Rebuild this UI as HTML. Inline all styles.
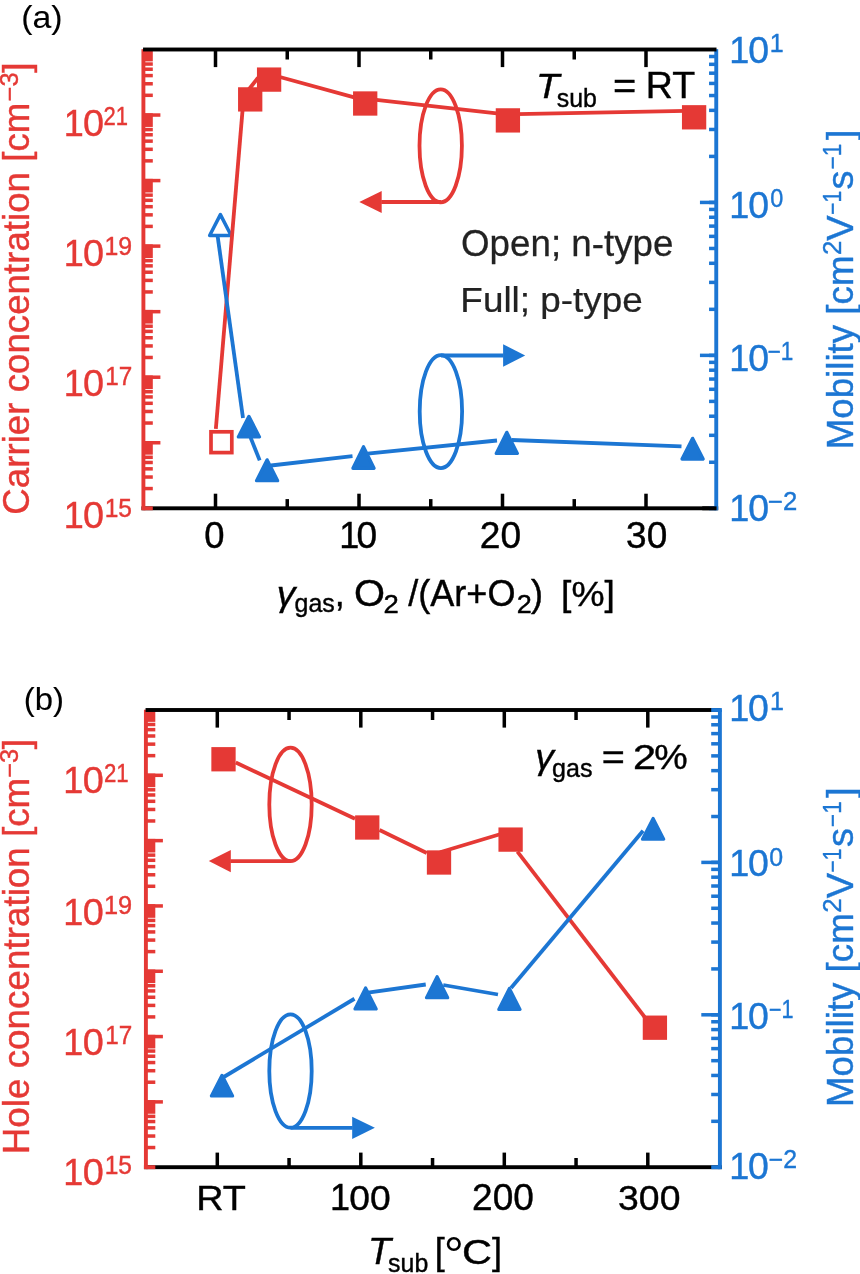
<!DOCTYPE html>
<html><head><meta charset="utf-8"><title>Figure</title>
<style>html,body{margin:0;padding:0;background:#fff}svg{display:block}text{font-family:"Liberation Sans",sans-serif}</style>
</head><body>
<svg width="860" height="1274" viewBox="0 0 860 1274">
<rect width="860" height="1274" fill="#fff"/>
<rect x="141.45" y="506.35" width="576.75" height="3.90" fill="#000"/>
<rect x="213.75" y="493.70" width="3.50" height="14.60" fill="#000"/>
<rect x="285.50" y="499.10" width="3.50" height="9.20" fill="#000"/>
<rect x="357.25" y="493.70" width="3.50" height="14.60" fill="#000"/>
<rect x="429.00" y="499.10" width="3.50" height="9.20" fill="#000"/>
<rect x="500.75" y="493.70" width="3.50" height="14.60" fill="#000"/>
<rect x="572.50" y="499.10" width="3.50" height="9.20" fill="#000"/>
<rect x="644.25" y="493.70" width="3.50" height="14.60" fill="#000"/>
<rect x="141.45" y="49.20" width="3.90" height="461.05" fill="#e53935"/>
<rect x="143.40" y="441.01" width="17.00" height="3.50" fill="#e53935"/>
<rect x="143.40" y="375.46" width="17.00" height="3.50" fill="#e53935"/>
<rect x="143.40" y="309.92" width="17.00" height="3.50" fill="#e53935"/>
<rect x="143.40" y="244.38" width="17.00" height="3.50" fill="#e53935"/>
<rect x="143.40" y="178.84" width="17.00" height="3.50" fill="#e53935"/>
<rect x="143.40" y="113.29" width="17.00" height="3.50" fill="#e53935"/>
<rect x="143.40" y="49.50" width="9.40" height="11.90" fill="#e53935"/>
<rect x="143.40" y="62.29" width="9.40" height="3.50" fill="#e53935"/>
<rect x="143.40" y="67.48" width="9.40" height="3.50" fill="#e53935"/>
<rect x="143.40" y="73.83" width="9.40" height="3.50" fill="#e53935"/>
<rect x="143.40" y="82.02" width="9.40" height="3.50" fill="#e53935"/>
<rect x="143.40" y="93.56" width="9.40" height="3.50" fill="#e53935"/>
<rect x="143.40" y="113.29" width="9.40" height="13.65" fill="#e53935"/>
<rect x="143.40" y="127.83" width="9.40" height="3.50" fill="#e53935"/>
<rect x="143.40" y="133.02" width="9.40" height="3.50" fill="#e53935"/>
<rect x="143.40" y="139.37" width="9.40" height="3.50" fill="#e53935"/>
<rect x="143.40" y="147.56" width="9.40" height="3.50" fill="#e53935"/>
<rect x="143.40" y="159.11" width="9.40" height="3.50" fill="#e53935"/>
<rect x="143.40" y="178.84" width="9.40" height="13.65" fill="#e53935"/>
<rect x="143.40" y="193.38" width="9.40" height="3.50" fill="#e53935"/>
<rect x="143.40" y="198.57" width="9.40" height="3.50" fill="#e53935"/>
<rect x="143.40" y="204.92" width="9.40" height="3.50" fill="#e53935"/>
<rect x="143.40" y="213.11" width="9.40" height="3.50" fill="#e53935"/>
<rect x="143.40" y="224.65" width="9.40" height="3.50" fill="#e53935"/>
<rect x="143.40" y="244.38" width="9.40" height="13.65" fill="#e53935"/>
<rect x="143.40" y="258.92" width="9.40" height="3.50" fill="#e53935"/>
<rect x="143.40" y="264.11" width="9.40" height="3.50" fill="#e53935"/>
<rect x="143.40" y="270.46" width="9.40" height="3.50" fill="#e53935"/>
<rect x="143.40" y="278.65" width="9.40" height="3.50" fill="#e53935"/>
<rect x="143.40" y="290.19" width="9.40" height="3.50" fill="#e53935"/>
<rect x="143.40" y="309.92" width="9.40" height="13.65" fill="#e53935"/>
<rect x="143.40" y="324.46" width="9.40" height="3.50" fill="#e53935"/>
<rect x="143.40" y="329.65" width="9.40" height="3.50" fill="#e53935"/>
<rect x="143.40" y="336.00" width="9.40" height="3.50" fill="#e53935"/>
<rect x="143.40" y="344.19" width="9.40" height="3.50" fill="#e53935"/>
<rect x="143.40" y="355.73" width="9.40" height="3.50" fill="#e53935"/>
<rect x="143.40" y="375.46" width="9.40" height="13.65" fill="#e53935"/>
<rect x="143.40" y="390.00" width="9.40" height="3.50" fill="#e53935"/>
<rect x="143.40" y="395.19" width="9.40" height="3.50" fill="#e53935"/>
<rect x="143.40" y="401.55" width="9.40" height="3.50" fill="#e53935"/>
<rect x="143.40" y="409.74" width="9.40" height="3.50" fill="#e53935"/>
<rect x="143.40" y="421.28" width="9.40" height="3.50" fill="#e53935"/>
<rect x="143.40" y="441.01" width="9.40" height="13.65" fill="#e53935"/>
<rect x="143.40" y="455.55" width="9.40" height="3.50" fill="#e53935"/>
<rect x="143.40" y="460.74" width="9.40" height="3.50" fill="#e53935"/>
<rect x="143.40" y="467.09" width="9.40" height="3.50" fill="#e53935"/>
<rect x="143.40" y="475.28" width="9.40" height="3.50" fill="#e53935"/>
<rect x="143.40" y="486.82" width="9.40" height="3.50" fill="#e53935"/>
<rect x="143.40" y="506.35" width="9.40" height="3.90" fill="#e53935"/>
<rect x="714.30" y="49.20" width="3.90" height="461.05" fill="#1c76d3"/>
<rect x="699.95" y="353.62" width="16.30" height="3.50" fill="#1c76d3"/>
<rect x="699.95" y="200.68" width="16.30" height="3.50" fill="#1c76d3"/>
<rect x="709.05" y="54.75" width="7.20" height="3.50" fill="#1c76d3"/>
<rect x="709.05" y="62.57" width="7.20" height="3.50" fill="#1c76d3"/>
<rect x="709.05" y="71.44" width="7.20" height="3.50" fill="#1c76d3"/>
<rect x="709.05" y="81.68" width="7.20" height="3.50" fill="#1c76d3"/>
<rect x="709.05" y="93.79" width="7.20" height="3.50" fill="#1c76d3"/>
<rect x="709.05" y="108.61" width="7.20" height="3.50" fill="#1c76d3"/>
<rect x="709.05" y="127.72" width="7.20" height="3.50" fill="#1c76d3"/>
<rect x="709.05" y="154.65" width="7.20" height="3.50" fill="#1c76d3"/>
<rect x="709.05" y="200.68" width="7.20" height="3.50" fill="#1c76d3"/>
<rect x="709.05" y="207.68" width="7.20" height="3.50" fill="#1c76d3"/>
<rect x="709.05" y="215.50" width="7.20" height="3.50" fill="#1c76d3"/>
<rect x="709.05" y="224.37" width="7.20" height="3.50" fill="#1c76d3"/>
<rect x="709.05" y="234.61" width="7.20" height="3.50" fill="#1c76d3"/>
<rect x="709.05" y="246.72" width="7.20" height="3.50" fill="#1c76d3"/>
<rect x="709.05" y="261.54" width="7.20" height="3.50" fill="#1c76d3"/>
<rect x="709.05" y="280.65" width="7.20" height="3.50" fill="#1c76d3"/>
<rect x="709.05" y="307.58" width="7.20" height="3.50" fill="#1c76d3"/>
<rect x="709.05" y="353.62" width="7.20" height="3.50" fill="#1c76d3"/>
<rect x="709.05" y="360.61" width="7.20" height="3.50" fill="#1c76d3"/>
<rect x="709.05" y="368.44" width="7.20" height="3.50" fill="#1c76d3"/>
<rect x="709.05" y="377.31" width="7.20" height="3.50" fill="#1c76d3"/>
<rect x="709.05" y="387.54" width="7.20" height="3.50" fill="#1c76d3"/>
<rect x="709.05" y="399.65" width="7.20" height="3.50" fill="#1c76d3"/>
<rect x="709.05" y="414.47" width="7.20" height="3.50" fill="#1c76d3"/>
<rect x="709.05" y="433.58" width="7.20" height="3.50" fill="#1c76d3"/>
<rect x="709.05" y="460.51" width="7.20" height="3.50" fill="#1c76d3"/>
<rect x="709.05" y="506.35" width="7.20" height="3.90" fill="#1c76d3"/>
<rect x="143.05" y="47.55" width="573.45" height="3.90" fill="#000"/>
<rect x="213.75" y="49.50" width="3.50" height="17.60" fill="#000"/>
<rect x="285.50" y="49.50" width="3.50" height="10.00" fill="#000"/>
<rect x="357.25" y="49.50" width="3.50" height="17.60" fill="#000"/>
<rect x="429.00" y="49.50" width="3.50" height="10.00" fill="#000"/>
<rect x="500.75" y="49.50" width="3.50" height="17.60" fill="#000"/>
<rect x="572.50" y="49.50" width="3.50" height="10.00" fill="#000"/>
<rect x="644.25" y="49.50" width="3.50" height="17.60" fill="#000"/>
<rect x="702.25" y="506.35" width="14.30" height="3.90" fill="#000"/>
<path d="M220.40,214.60 L231.15,235.55 L209.65,235.55 Z" fill="#fff" stroke="#1c76d3" stroke-width="3.5" stroke-linejoin="round"/>
<line x1="215.85" y1="428.80" x2="243.40" y2="100.00" stroke="#e53935" stroke-width="3.8" stroke-linecap="butt"/>
<line x1="243.00" y1="96.70" x2="258.00" y2="77.80" stroke="#e53935" stroke-width="3.8" stroke-linecap="butt"/>
<line x1="278.00" y1="76.50" x2="356.00" y2="97.80" stroke="#e53935" stroke-width="3.8" stroke-linecap="butt"/>
<line x1="374.00" y1="99.60" x2="499.00" y2="113.60" stroke="#e53935" stroke-width="3.8" stroke-linecap="butt"/>
<line x1="517.00" y1="114.06" x2="686.00" y2="110.93" stroke="#e53935" stroke-width="3.8" stroke-linecap="butt"/>
<line x1="217.60" y1="236.00" x2="243.00" y2="418.00" stroke="#1c76d3" stroke-width="3.8" stroke-linecap="butt"/>
<line x1="250.60" y1="437.60" x2="259.70" y2="460.40" stroke="#1c76d3" stroke-width="3.8" stroke-linecap="butt"/>
<line x1="271.00" y1="465.50" x2="352.50" y2="456.20" stroke="#1c76d3" stroke-width="3.8" stroke-linecap="butt"/>
<line x1="367.50" y1="453.60" x2="497.00" y2="440.50" stroke="#1c76d3" stroke-width="3.8" stroke-linecap="butt"/>
<line x1="511.50" y1="440.00" x2="681.50" y2="446.30" stroke="#1c76d3" stroke-width="3.8" stroke-linecap="butt"/>
<rect x="238.05" y="87.25" width="24.30" height="24.30" fill="#e53935"/>
<rect x="256.95" y="67.45" width="24.30" height="24.30" fill="#e53935"/>
<rect x="353.05" y="91.35" width="24.30" height="24.30" fill="#e53935"/>
<rect x="495.75" y="108.25" width="24.30" height="24.30" fill="#e53935"/>
<rect x="681.95" y="105.15" width="24.30" height="24.30" fill="#e53935"/>
<rect x="211.00" y="431.80" width="20.80" height="20.80" fill="#fff" stroke="#e53935" stroke-width="3.7"/>
<path d="M248.90,416.30 L259.50,436.90 L238.30,436.90 Z" fill="#1c76d3" stroke="#1c76d3" stroke-width="3.2" stroke-linejoin="round"/>
<path d="M267.10,459.80 L277.70,480.70 L256.50,480.70 Z" fill="#1c76d3" stroke="#1c76d3" stroke-width="3.2" stroke-linejoin="round"/>
<path d="M363.50,446.70 L374.10,468.30 L352.90,468.30 Z" fill="#1c76d3" stroke="#1c76d3" stroke-width="3.2" stroke-linejoin="round"/>
<path d="M506.80,432.30 L517.40,453.40 L496.20,453.40 Z" fill="#1c76d3" stroke="#1c76d3" stroke-width="3.2" stroke-linejoin="round"/>
<path d="M692.60,438.30 L703.20,459.10 L682.00,459.10 Z" fill="#1c76d3" stroke="#1c76d3" stroke-width="3.2" stroke-linejoin="round"/>
<ellipse cx="440.70" cy="145.85" rx="21.20" ry="56.45" fill="none" stroke="#e53935" stroke-width="3.8"/>
<line x1="441.10" y1="202.05" x2="381.20" y2="202.05" stroke="#e53935" stroke-width="3.9" stroke-linecap="butt"/>
<path d="M359.30,202.05 L381.70,191.00 L381.70,213.10 Z" fill="#e53935"/>
<ellipse cx="440.90" cy="411.60" rx="21.20" ry="56.45" fill="none" stroke="#1c76d3" stroke-width="3.8"/>
<line x1="441.10" y1="355.50" x2="503.60" y2="355.50" stroke="#1c76d3" stroke-width="3.9" stroke-linecap="butt"/>
<path d="M525.20,355.50 L503.10,344.20 L503.10,366.80 Z" fill="#1c76d3"/>
<text transform="translate(21.19,27.60) scale(1.0568,1.0000)" font-size="32" fill="#000" stroke="#000" stroke-width="0.1">(a)</text>
<text transform="translate(83.11,135.70) scale(1.0500,1.0000)" font-size="36" fill="#e53935" stroke="#e53935" stroke-width="0.4">0</text>
<text transform="translate(63.80,135.70) scale(1.0000,1.0000)" font-size="36" fill="#e53935" stroke="#e53935" stroke-width="0.4">1</text>
<text transform="translate(103.60,124.60) scale(0.8810,1.0000)" font-size="25" fill="#e53935" stroke="#e53935" stroke-width="0.4">21</text>
<text transform="translate(83.11,265.60) scale(1.0500,1.0000)" font-size="36" fill="#e53935" stroke="#e53935" stroke-width="0.4">0</text>
<text transform="translate(63.80,265.60) scale(1.0000,1.0000)" font-size="36" fill="#e53935" stroke="#e53935" stroke-width="0.4">1</text>
<text transform="translate(104.44,254.50) scale(0.9939,1.0000)" font-size="25" fill="#e53935" stroke="#e53935" stroke-width="0.4">19</text>
<text transform="translate(83.11,396.40) scale(1.0500,1.0000)" font-size="36" fill="#e53935" stroke="#e53935" stroke-width="0.4">0</text>
<text transform="translate(63.80,396.40) scale(1.0000,1.0000)" font-size="36" fill="#e53935" stroke="#e53935" stroke-width="0.4">1</text>
<text transform="translate(105.18,385.30) scale(0.9706,1.0000)" font-size="25" fill="#e53935" stroke="#e53935" stroke-width="0.4">17</text>
<text transform="translate(83.11,527.60) scale(1.0500,1.0000)" font-size="36" fill="#e53935" stroke="#e53935" stroke-width="0.4">0</text>
<text transform="translate(63.80,527.60) scale(1.0000,1.0000)" font-size="36" fill="#e53935" stroke="#e53935" stroke-width="0.4">1</text>
<text transform="translate(104.66,516.50) scale(0.9809,1.0000)" font-size="25" fill="#e53935" stroke="#e53935" stroke-width="0.4">15</text>
<text transform="translate(748.31,63.30) scale(1.0400,1.0000)" font-size="36" fill="#1c76d3" stroke="#1c76d3" stroke-width="0.4">0</text>
<text transform="translate(729.20,63.30) scale(1.0000,1.0000)" font-size="36" fill="#1c76d3" stroke="#1c76d3" stroke-width="0.4">1</text>
<text transform="translate(769.72,52.30) scale(1.0000,1.0000)" font-size="25" fill="#1c76d3" stroke="#1c76d3" stroke-width="0.4">1</text>
<text transform="translate(748.31,218.30) scale(1.0400,1.0000)" font-size="36" fill="#1c76d3" stroke="#1c76d3" stroke-width="0.4">0</text>
<text transform="translate(729.20,218.30) scale(1.0000,1.0000)" font-size="36" fill="#1c76d3" stroke="#1c76d3" stroke-width="0.4">1</text>
<text transform="translate(770.26,207.30) scale(0.9382,1.0000)" font-size="25" fill="#1c76d3" stroke="#1c76d3" stroke-width="0.4">0</text>
<text transform="translate(748.31,371.30) scale(1.0400,1.0000)" font-size="36" fill="#1c76d3" stroke="#1c76d3" stroke-width="0.4">0</text>
<text transform="translate(729.20,371.30) scale(1.0000,1.0000)" font-size="36" fill="#1c76d3" stroke="#1c76d3" stroke-width="0.4">1</text>
<text transform="translate(767.67,360.30) scale(0.9017,1.0000)" font-size="25" fill="#1c76d3" stroke="#1c76d3" stroke-width="0.4">−1</text>
<text transform="translate(748.31,521.40) scale(1.0400,1.0000)" font-size="36" fill="#1c76d3" stroke="#1c76d3" stroke-width="0.4">0</text>
<text transform="translate(729.20,521.40) scale(1.0000,1.0000)" font-size="36" fill="#1c76d3" stroke="#1c76d3" stroke-width="0.4">1</text>
<text transform="translate(768.02,510.10) scale(1.0269,1.0000)" font-size="25" fill="#1c76d3" stroke="#1c76d3" stroke-width="0.4">−2</text>
<text transform="translate(204.14,548.00) scale(1.0122,1.0000)" font-size="36" fill="#000" stroke="#000" stroke-width="0.4">0</text>
<text transform="translate(356.46,548.00) scale(1.0300,1.0000)" font-size="36" fill="#000" stroke="#000" stroke-width="0.4">0</text>
<text transform="translate(339.30,548.00) scale(1.0000,1.0000)" font-size="36" fill="#000" stroke="#000" stroke-width="0.4">1</text>
<text transform="translate(479.74,548.00) scale(1.0323,1.0000)" font-size="36" fill="#000" stroke="#000" stroke-width="0.4">20</text>
<text transform="translate(626.11,548.00) scale(1.0279,1.0000)" font-size="36" fill="#000" stroke="#000" stroke-width="0.4">30</text>
<text transform="translate(276.75,605.70) scale(1.0378,1.0000)" font-size="36" fill="#000" stroke="#000" stroke-width="0.4" font-style="italic">γ</text>
<text transform="translate(294.54,612.20) scale(0.9954,1.0000)" font-size="25" fill="#000" stroke="#000" stroke-width="0.4">gas</text>
<text transform="translate(334.80,605.70) scale(1.0000,1.0000)" font-size="36" fill="#000" stroke="#000" stroke-width="0.4">,</text>
<text transform="translate(353.91,605.70) scale(1.1070,1.0000)" font-size="36" fill="#000" stroke="#000" stroke-width="0.4">O</text>
<text transform="translate(383.43,613.00) scale(1.0989,1.0000)" font-size="25" fill="#000" stroke="#000" stroke-width="0.4">2</text>
<text transform="translate(408.20,605.70) scale(1.0028,1.0000)" font-size="36" fill="#000" stroke="#000" stroke-width="0.4">/(Ar+O</text>
<text transform="translate(516.85,613.00) scale(1.0813,1.0000)" font-size="25" fill="#000" stroke="#000" stroke-width="0.4">2</text>
<text transform="translate(530.91,605.70) scale(1.0000,1.0000)" font-size="36" fill="#000" stroke="#000" stroke-width="0.4">)</text>
<text transform="translate(561.09,605.70) scale(1.0345,1.0000)" font-size="36" fill="#000" stroke="#000" stroke-width="0.4">[%]</text>
<text transform="translate(535.96,98.40) scale(1.0632,1.0000)" font-size="36" fill="#000" stroke="#000" stroke-width="0.4" font-style="italic">T</text>
<text transform="translate(556.72,106.60) scale(0.9958,1.0000)" font-size="25" fill="#000" stroke="#000" stroke-width="0.4">sub</text>
<text transform="translate(612.91,98.40) scale(1.1054,1.0000)" font-size="36" fill="#000" stroke="#000" stroke-width="0.4">=</text>
<text transform="translate(645.80,98.40) scale(1.0422,1.0000)" font-size="36" fill="#000" stroke="#000" stroke-width="0.4">RT</text>
<text transform="translate(461.06,255.60) scale(1.0203,1.0000)" font-size="36" fill="#222" stroke="#222" stroke-width="0.25">Open; n-type</text>
<text transform="translate(460.36,312.00) scale(1.0247,1.0000)" font-size="36" fill="#222" stroke="#222" stroke-width="0.25">Full; p-type</text>
<text transform="translate(29.00,514.64) rotate(-90) scale(0.9870,1.0000)" font-size="37.2" fill="#e53935" stroke="#e53935" stroke-width="0.4">Carrier concentration [cm</text>
<text transform="translate(18.10,101.48) rotate(-90) scale(1.0234,1.0000)" font-size="25" fill="#e53935" stroke="#e53935" stroke-width="0.4">−3</text>
<text transform="translate(29.00,72.65) rotate(-90) scale(1.0000,1.0000)" font-size="37.2" fill="#e53935" stroke="#e53935" stroke-width="0.4">]</text>
<text transform="translate(852.60,449.33) rotate(-90) scale(0.9872,1.0000)" font-size="37.2" fill="#1c76d3" stroke="#1c76d3" stroke-width="0.4">Mobility [cm</text>
<text transform="translate(840.60,255.00) rotate(-90) scale(1.0300,1.0000)" font-size="25" fill="#1c76d3" stroke="#1c76d3" stroke-width="0.4">2</text>
<text transform="translate(852.60,240.66) rotate(-90) scale(1.0200,1.0000)" font-size="37.2" fill="#1c76d3" stroke="#1c76d3" stroke-width="0.4">V</text>
<text transform="translate(840.60,214.86) rotate(-90) scale(0.8441,1.0000)" font-size="25" fill="#1c76d3" stroke="#1c76d3" stroke-width="0.4">−1</text>
<text transform="translate(852.60,189.39) rotate(-90) scale(1.0200,1.0000)" font-size="37.2" fill="#1c76d3" stroke="#1c76d3" stroke-width="0.4">s</text>
<text transform="translate(840.60,169.33) rotate(-90) scale(0.9017,1.0000)" font-size="25" fill="#1c76d3" stroke="#1c76d3" stroke-width="0.4">−1</text>
<text transform="translate(852.60,140.00) rotate(-90) scale(1.0000,1.0000)" font-size="37.2" fill="#1c76d3" stroke="#1c76d3" stroke-width="0.4">]</text>
<rect x="143.95" y="1165.25" width="577.90" height="3.90" fill="#000"/>
<rect x="215.55" y="1152.60" width="3.50" height="14.60" fill="#000"/>
<rect x="287.30" y="1158.00" width="3.50" height="9.20" fill="#000"/>
<rect x="359.05" y="1152.60" width="3.50" height="14.60" fill="#000"/>
<rect x="430.80" y="1158.00" width="3.50" height="9.20" fill="#000"/>
<rect x="502.55" y="1152.60" width="3.50" height="14.60" fill="#000"/>
<rect x="574.30" y="1158.00" width="3.50" height="9.20" fill="#000"/>
<rect x="646.05" y="1152.60" width="3.50" height="14.60" fill="#000"/>
<rect x="143.95" y="709.70" width="3.90" height="459.45" fill="#e53935"/>
<rect x="145.90" y="1100.14" width="17.00" height="3.50" fill="#e53935"/>
<rect x="145.90" y="1034.82" width="17.00" height="3.50" fill="#e53935"/>
<rect x="145.90" y="969.51" width="17.00" height="3.50" fill="#e53935"/>
<rect x="145.90" y="904.19" width="17.00" height="3.50" fill="#e53935"/>
<rect x="145.90" y="838.88" width="17.00" height="3.50" fill="#e53935"/>
<rect x="145.90" y="773.56" width="17.00" height="3.50" fill="#e53935"/>
<rect x="145.90" y="710.00" width="9.40" height="11.87" fill="#e53935"/>
<rect x="145.90" y="722.74" width="9.40" height="3.50" fill="#e53935"/>
<rect x="145.90" y="727.91" width="9.40" height="3.50" fill="#e53935"/>
<rect x="145.90" y="734.24" width="9.40" height="3.50" fill="#e53935"/>
<rect x="145.90" y="742.40" width="9.40" height="3.50" fill="#e53935"/>
<rect x="145.90" y="753.90" width="9.40" height="3.50" fill="#e53935"/>
<rect x="145.90" y="773.56" width="9.40" height="13.62" fill="#e53935"/>
<rect x="145.90" y="788.05" width="9.40" height="3.50" fill="#e53935"/>
<rect x="145.90" y="793.23" width="9.40" height="3.50" fill="#e53935"/>
<rect x="145.90" y="799.56" width="9.40" height="3.50" fill="#e53935"/>
<rect x="145.90" y="807.72" width="9.40" height="3.50" fill="#e53935"/>
<rect x="145.90" y="819.22" width="9.40" height="3.50" fill="#e53935"/>
<rect x="145.90" y="838.88" width="9.40" height="13.62" fill="#e53935"/>
<rect x="145.90" y="853.37" width="9.40" height="3.50" fill="#e53935"/>
<rect x="145.90" y="858.54" width="9.40" height="3.50" fill="#e53935"/>
<rect x="145.90" y="864.87" width="9.40" height="3.50" fill="#e53935"/>
<rect x="145.90" y="873.03" width="9.40" height="3.50" fill="#e53935"/>
<rect x="145.90" y="884.53" width="9.40" height="3.50" fill="#e53935"/>
<rect x="145.90" y="904.19" width="9.40" height="13.62" fill="#e53935"/>
<rect x="145.90" y="918.68" width="9.40" height="3.50" fill="#e53935"/>
<rect x="145.90" y="923.85" width="9.40" height="3.50" fill="#e53935"/>
<rect x="145.90" y="930.18" width="9.40" height="3.50" fill="#e53935"/>
<rect x="145.90" y="938.34" width="9.40" height="3.50" fill="#e53935"/>
<rect x="145.90" y="949.85" width="9.40" height="3.50" fill="#e53935"/>
<rect x="145.90" y="969.51" width="9.40" height="13.62" fill="#e53935"/>
<rect x="145.90" y="984.00" width="9.40" height="3.50" fill="#e53935"/>
<rect x="145.90" y="989.17" width="9.40" height="3.50" fill="#e53935"/>
<rect x="145.90" y="995.50" width="9.40" height="3.50" fill="#e53935"/>
<rect x="145.90" y="1003.66" width="9.40" height="3.50" fill="#e53935"/>
<rect x="145.90" y="1015.16" width="9.40" height="3.50" fill="#e53935"/>
<rect x="145.90" y="1034.82" width="9.40" height="13.62" fill="#e53935"/>
<rect x="145.90" y="1049.31" width="9.40" height="3.50" fill="#e53935"/>
<rect x="145.90" y="1054.48" width="9.40" height="3.50" fill="#e53935"/>
<rect x="145.90" y="1060.81" width="9.40" height="3.50" fill="#e53935"/>
<rect x="145.90" y="1068.97" width="9.40" height="3.50" fill="#e53935"/>
<rect x="145.90" y="1080.47" width="9.40" height="3.50" fill="#e53935"/>
<rect x="145.90" y="1100.14" width="9.40" height="13.62" fill="#e53935"/>
<rect x="145.90" y="1114.63" width="9.40" height="3.50" fill="#e53935"/>
<rect x="145.90" y="1119.80" width="9.40" height="3.50" fill="#e53935"/>
<rect x="145.90" y="1126.13" width="9.40" height="3.50" fill="#e53935"/>
<rect x="145.90" y="1134.29" width="9.40" height="3.50" fill="#e53935"/>
<rect x="145.90" y="1145.79" width="9.40" height="3.50" fill="#e53935"/>
<rect x="145.90" y="1165.25" width="9.40" height="3.90" fill="#e53935"/>
<rect x="145.55" y="708.05" width="574.60" height="3.90" fill="#000"/>
<rect x="215.55" y="710.00" width="3.50" height="17.60" fill="#000"/>
<rect x="287.30" y="710.00" width="3.50" height="10.00" fill="#000"/>
<rect x="359.05" y="710.00" width="3.50" height="17.60" fill="#000"/>
<rect x="430.80" y="710.00" width="3.50" height="10.00" fill="#000"/>
<rect x="502.55" y="710.00" width="3.50" height="17.60" fill="#000"/>
<rect x="574.30" y="710.00" width="3.50" height="10.00" fill="#000"/>
<rect x="646.05" y="710.00" width="3.50" height="17.60" fill="#000"/>
<rect x="717.95" y="709.70" width="3.90" height="459.45" fill="#1c76d3"/>
<rect x="701.30" y="1013.05" width="18.60" height="3.50" fill="#1c76d3"/>
<rect x="701.30" y="860.65" width="18.60" height="3.50" fill="#1c76d3"/>
<rect x="711.20" y="708.05" width="10.65" height="3.90" fill="#1c76d3"/>
<rect x="711.20" y="715.22" width="8.70" height="3.50" fill="#1c76d3"/>
<rect x="711.20" y="723.02" width="8.70" height="3.50" fill="#1c76d3"/>
<rect x="711.20" y="731.86" width="8.70" height="3.50" fill="#1c76d3"/>
<rect x="711.20" y="742.06" width="8.70" height="3.50" fill="#1c76d3"/>
<rect x="711.20" y="754.13" width="8.70" height="3.50" fill="#1c76d3"/>
<rect x="711.20" y="768.90" width="8.70" height="3.50" fill="#1c76d3"/>
<rect x="711.20" y="787.94" width="8.70" height="3.50" fill="#1c76d3"/>
<rect x="711.20" y="814.77" width="8.70" height="3.50" fill="#1c76d3"/>
<rect x="711.20" y="860.65" width="8.70" height="3.50" fill="#1c76d3"/>
<rect x="711.20" y="867.62" width="8.70" height="3.50" fill="#1c76d3"/>
<rect x="711.20" y="875.42" width="8.70" height="3.50" fill="#1c76d3"/>
<rect x="711.20" y="884.26" width="8.70" height="3.50" fill="#1c76d3"/>
<rect x="711.20" y="894.46" width="8.70" height="3.50" fill="#1c76d3"/>
<rect x="711.20" y="906.53" width="8.70" height="3.50" fill="#1c76d3"/>
<rect x="711.20" y="921.30" width="8.70" height="3.50" fill="#1c76d3"/>
<rect x="711.20" y="940.34" width="8.70" height="3.50" fill="#1c76d3"/>
<rect x="711.20" y="967.17" width="8.70" height="3.50" fill="#1c76d3"/>
<rect x="711.20" y="1013.05" width="8.70" height="3.50" fill="#1c76d3"/>
<rect x="711.20" y="1020.02" width="8.70" height="3.50" fill="#1c76d3"/>
<rect x="711.20" y="1027.82" width="8.70" height="3.50" fill="#1c76d3"/>
<rect x="711.20" y="1036.66" width="8.70" height="3.50" fill="#1c76d3"/>
<rect x="711.20" y="1046.86" width="8.70" height="3.50" fill="#1c76d3"/>
<rect x="711.20" y="1058.93" width="8.70" height="3.50" fill="#1c76d3"/>
<rect x="711.20" y="1073.70" width="8.70" height="3.50" fill="#1c76d3"/>
<rect x="711.20" y="1092.74" width="8.70" height="3.50" fill="#1c76d3"/>
<rect x="711.20" y="1119.57" width="8.70" height="3.50" fill="#1c76d3"/>
<rect x="711.20" y="1165.25" width="8.70" height="3.90" fill="#1c76d3"/>
<line x1="235.75" y1="762.50" x2="355.00" y2="818.75" stroke="#e53935" stroke-width="3.8" stroke-linecap="butt"/>
<line x1="379.50" y1="830.00" x2="426.75" y2="853.00" stroke="#e53935" stroke-width="3.8" stroke-linecap="butt"/>
<line x1="440.00" y1="852.20" x2="500.00" y2="834.20" stroke="#e53935" stroke-width="3.8" stroke-linecap="butt"/>
<line x1="517.40" y1="851.70" x2="644.60" y2="1017.00" stroke="#e53935" stroke-width="3.8" stroke-linecap="butt"/>
<line x1="223.75" y1="1077.00" x2="354.50" y2="998.75" stroke="#1c76d3" stroke-width="3.8" stroke-linecap="butt"/>
<line x1="368.00" y1="992.70" x2="425.75" y2="984.50" stroke="#1c76d3" stroke-width="3.8" stroke-linecap="butt"/>
<line x1="443.25" y1="985.00" x2="498.00" y2="994.50" stroke="#1c76d3" stroke-width="3.8" stroke-linecap="butt"/>
<line x1="511.00" y1="988.00" x2="643.10" y2="830.80" stroke="#1c76d3" stroke-width="3.8" stroke-linecap="butt"/>
<rect x="211.35" y="747.10" width="24.30" height="24.30" fill="#e53935"/>
<rect x="355.10" y="815.35" width="24.30" height="24.30" fill="#e53935"/>
<rect x="426.85" y="850.35" width="24.30" height="24.30" fill="#e53935"/>
<rect x="498.45" y="827.45" width="24.30" height="24.30" fill="#e53935"/>
<rect x="642.75" y="1015.55" width="24.30" height="24.30" fill="#e53935"/>
<path d="M222.00,1075.35 L232.60,1096.00 L211.40,1096.00 Z" fill="#1c76d3" stroke="#1c76d3" stroke-width="3.2" stroke-linejoin="round"/>
<path d="M365.60,987.85 L376.20,1009.00 L355.00,1009.00 Z" fill="#1c76d3" stroke="#1c76d3" stroke-width="3.2" stroke-linejoin="round"/>
<path d="M437.10,976.60 L447.70,997.75 L426.50,997.75 Z" fill="#1c76d3" stroke="#1c76d3" stroke-width="3.2" stroke-linejoin="round"/>
<path d="M509.40,988.50 L520.00,1009.40 L498.80,1009.40 Z" fill="#1c76d3" stroke="#1c76d3" stroke-width="3.2" stroke-linejoin="round"/>
<path d="M653.10,818.50 L663.70,839.20 L642.50,839.20 Z" fill="#1c76d3" stroke="#1c76d3" stroke-width="3.2" stroke-linejoin="round"/>
<ellipse cx="290.50" cy="804.40" rx="21.20" ry="56.70" fill="none" stroke="#e53935" stroke-width="3.8"/>
<line x1="290.60" y1="861.10" x2="230.30" y2="861.10" stroke="#e53935" stroke-width="3.9" stroke-linecap="butt"/>
<path d="M208.80,861.10 L230.80,849.95 L230.80,872.25 Z" fill="#e53935"/>
<ellipse cx="290.50" cy="1071.00" rx="21.20" ry="56.70" fill="none" stroke="#1c76d3" stroke-width="3.8"/>
<line x1="290.60" y1="1127.85" x2="352.70" y2="1127.85" stroke="#1c76d3" stroke-width="3.9" stroke-linecap="butt"/>
<path d="M374.90,1127.85 L352.20,1116.65 L352.20,1139.05 Z" fill="#1c76d3"/>
<text transform="translate(23.74,710.00) scale(1.0284,1.0000)" font-size="32" fill="#000" stroke="#000" stroke-width="0.1">(b)</text>
<text transform="translate(82.86,793.30) scale(1.0500,1.0000)" font-size="36" fill="#e53935" stroke="#e53935" stroke-width="0.4">0</text>
<text transform="translate(63.30,793.30) scale(1.0000,1.0000)" font-size="36" fill="#e53935" stroke="#e53935" stroke-width="0.4">1</text>
<text transform="translate(103.89,782.30) scale(0.8889,1.0000)" font-size="25" fill="#e53935" stroke="#e53935" stroke-width="0.4">21</text>
<text transform="translate(82.86,924.60) scale(1.0500,1.0000)" font-size="36" fill="#e53935" stroke="#e53935" stroke-width="0.4">0</text>
<text transform="translate(63.30,924.60) scale(1.0000,1.0000)" font-size="36" fill="#e53935" stroke="#e53935" stroke-width="0.4">1</text>
<text transform="translate(103.90,913.60) scale(1.0141,1.0000)" font-size="25" fill="#e53935" stroke="#e53935" stroke-width="0.4">19</text>
<text transform="translate(82.86,1054.90) scale(1.0500,1.0000)" font-size="36" fill="#e53935" stroke="#e53935" stroke-width="0.4">0</text>
<text transform="translate(63.30,1054.90) scale(1.0000,1.0000)" font-size="36" fill="#e53935" stroke="#e53935" stroke-width="0.4">1</text>
<text transform="translate(105.18,1043.90) scale(0.9706,1.0000)" font-size="25" fill="#e53935" stroke="#e53935" stroke-width="0.4">17</text>
<text transform="translate(82.86,1185.00) scale(1.0500,1.0000)" font-size="36" fill="#e53935" stroke="#e53935" stroke-width="0.4">0</text>
<text transform="translate(63.30,1185.00) scale(1.0000,1.0000)" font-size="36" fill="#e53935" stroke="#e53935" stroke-width="0.4">1</text>
<text transform="translate(104.66,1174.00) scale(0.9809,1.0000)" font-size="25" fill="#e53935" stroke="#e53935" stroke-width="0.4">15</text>
<text transform="translate(748.11,720.70) scale(1.0400,1.0000)" font-size="36" fill="#1c76d3" stroke="#1c76d3" stroke-width="0.4">0</text>
<text transform="translate(729.30,720.70) scale(1.0000,1.0000)" font-size="36" fill="#1c76d3" stroke="#1c76d3" stroke-width="0.4">1</text>
<text transform="translate(769.92,710.40) scale(1.0000,1.0000)" font-size="25" fill="#1c76d3" stroke="#1c76d3" stroke-width="0.4">1</text>
<text transform="translate(748.11,876.40) scale(1.0400,1.0000)" font-size="36" fill="#1c76d3" stroke="#1c76d3" stroke-width="0.4">0</text>
<text transform="translate(729.30,876.40) scale(1.0000,1.0000)" font-size="36" fill="#1c76d3" stroke="#1c76d3" stroke-width="0.4">1</text>
<text transform="translate(769.20,865.60) scale(0.9969,1.0000)" font-size="25" fill="#1c76d3" stroke="#1c76d3" stroke-width="0.4">0</text>
<text transform="translate(748.11,1028.70) scale(1.0400,1.0000)" font-size="36" fill="#1c76d3" stroke="#1c76d3" stroke-width="0.4">0</text>
<text transform="translate(729.30,1028.70) scale(1.0000,1.0000)" font-size="36" fill="#1c76d3" stroke="#1c76d3" stroke-width="0.4">1</text>
<text transform="translate(768.92,1018.40) scale(0.8633,1.0000)" font-size="25" fill="#1c76d3" stroke="#1c76d3" stroke-width="0.4">−1</text>
<text transform="translate(748.11,1178.70) scale(1.0400,1.0000)" font-size="36" fill="#1c76d3" stroke="#1c76d3" stroke-width="0.4">0</text>
<text transform="translate(729.30,1178.70) scale(1.0000,1.0000)" font-size="36" fill="#1c76d3" stroke="#1c76d3" stroke-width="0.4">1</text>
<text transform="translate(768.76,1168.00) scale(0.9923,1.0000)" font-size="25" fill="#1c76d3" stroke="#1c76d3" stroke-width="0.4">−2</text>
<text transform="translate(196.18,1210.30) scale(1.0514,1.0000)" font-size="36" fill="#000" stroke="#000" stroke-width="0.4">RT</text>
<text transform="translate(349.21,1210.30) scale(1.0331,1.0000)" font-size="36" fill="#000" stroke="#000" stroke-width="0.4">00</text>
<text transform="translate(329.90,1210.30) scale(1.0000,1.0000)" font-size="36" fill="#000" stroke="#000" stroke-width="0.4">1</text>
<text transform="translate(472.05,1210.30) scale(1.0302,1.0000)" font-size="36" fill="#000" stroke="#000" stroke-width="0.4">200</text>
<text transform="translate(618.10,1210.30) scale(1.0379,1.0000)" font-size="36" fill="#000" stroke="#000" stroke-width="0.4">300</text>
<text transform="translate(367.92,1263.80) scale(1.0441,1.0000)" font-size="36" fill="#000" stroke="#000" stroke-width="0.4" font-style="italic">T</text>
<text transform="translate(388.12,1272.00) scale(0.9958,1.0000)" font-size="25" fill="#000" stroke="#000" stroke-width="0.4">sub</text>
<text transform="translate(434.78,1263.80) scale(1.0000,1.0000)" font-size="36" fill="#000" stroke="#000" stroke-width="0.4">[</text>
<text transform="translate(443.77,1272.20) scale(1.0000,1.0000)" font-size="50.4" fill="#000" stroke="#000" stroke-width="0">°</text>
<text transform="translate(462.02,1263.80) scale(1.1549,1.0000)" font-size="36" fill="#000" stroke="#000" stroke-width="0.4">C</text>
<text transform="translate(491.88,1263.80) scale(1.0000,1.0000)" font-size="36" fill="#000" stroke="#000" stroke-width="0.4">]</text>
<text transform="translate(535.15,769.00) scale(1.0378,1.0000)" font-size="36" fill="#000" stroke="#000" stroke-width="0.4" font-style="italic">γ</text>
<text transform="translate(552.03,777.00) scale(1.0033,1.0000)" font-size="25" fill="#000" stroke="#000" stroke-width="0.4">gas</text>
<text transform="translate(601.82,769.00) scale(1.0997,1.0000)" font-size="36" fill="#000" stroke="#000" stroke-width="0.4">=</text>
<text transform="translate(633.02,769.00) scale(1.1538,1.0000)" font-size="36" fill="#000" stroke="#000" stroke-width="0.4">2</text>
<text transform="translate(654.29,769.00) scale(1.0434,1.0000)" font-size="36" fill="#000" stroke="#000" stroke-width="0.4">%</text>
<text transform="translate(29.00,1154.24) rotate(-90) scale(0.9902,1.0000)" font-size="37.2" fill="#e53935" stroke="#e53935" stroke-width="0.4">Hole concentration [cm</text>
<text transform="translate(18.10,777.87) rotate(-90) scale(1.0158,1.0000)" font-size="25" fill="#e53935" stroke="#e53935" stroke-width="0.4">−3</text>
<text transform="translate(29.00,749.15) rotate(-90) scale(1.0000,1.0000)" font-size="37.2" fill="#e53935" stroke="#e53935" stroke-width="0.4">]</text>
<text transform="translate(852.60,1107.03) rotate(-90) scale(0.9872,1.0000)" font-size="37.2" fill="#1c76d3" stroke="#1c76d3" stroke-width="0.4">Mobility [cm</text>
<text transform="translate(840.60,912.70) rotate(-90) scale(1.0300,1.0000)" font-size="25" fill="#1c76d3" stroke="#1c76d3" stroke-width="0.4">2</text>
<text transform="translate(852.60,898.36) rotate(-90) scale(1.0200,1.0000)" font-size="37.2" fill="#1c76d3" stroke="#1c76d3" stroke-width="0.4">V</text>
<text transform="translate(840.60,872.56) rotate(-90) scale(0.8441,1.0000)" font-size="25" fill="#1c76d3" stroke="#1c76d3" stroke-width="0.4">−1</text>
<text transform="translate(852.60,847.09) rotate(-90) scale(1.0200,1.0000)" font-size="37.2" fill="#1c76d3" stroke="#1c76d3" stroke-width="0.4">s</text>
<text transform="translate(840.60,827.03) rotate(-90) scale(0.9017,1.0000)" font-size="25" fill="#1c76d3" stroke="#1c76d3" stroke-width="0.4">−1</text>
<text transform="translate(852.60,797.70) rotate(-90) scale(1.0000,1.0000)" font-size="37.2" fill="#1c76d3" stroke="#1c76d3" stroke-width="0.4">]</text>
</svg>
</body></html>
